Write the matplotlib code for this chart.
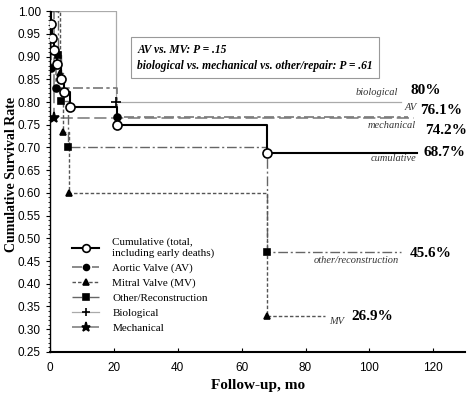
import matplotlib
matplotlib.use('Agg')
import matplotlib.pyplot as plt
from matplotlib.legend_handler import HandlerLine2D
import numpy as np

# Kaplan-Meier style step curves (months, survival)
cum_t = [0, 0.3, 0.6, 1.2, 2.3, 3.4, 4.3, 6.2, 21, 68, 115]
cum_s = [1.0, 0.971, 0.94, 0.914, 0.883, 0.851, 0.821, 0.79, 0.749, 0.687, 0.687]

av_t = [0, 0.3, 1.9, 21, 112]
av_s = [1.0, 0.874, 0.831, 0.767, 0.767]

mv_t = [0, 3.1, 4.2, 5.9, 68, 86]
mv_s = [1.0, 0.864, 0.735, 0.60, 0.328, 0.328]

oth_t = [0, 2.6, 3.3, 5.5, 68, 110]
oth_s = [1.0, 0.903, 0.803, 0.70, 0.47, 0.47]

bio_t = [0, 20.8, 110]
bio_s = [1.0, 0.80, 0.80]

mech_t = [0, 1.3, 114]
mech_s = [1.0, 0.764, 0.764]

end_labels = ['biological', 'AV', 'mechanical', 'cumulative', 'other/reconstruction', 'MV']
end_pcts = ['80%', '76.1%', '74.2%', '68.7%', '45.6%', '26.9%']

serif = ['Liberation Serif', 'DejaVu Serif']
plt.rcParams['font.family'] = ['Liberation Sans', 'DejaVu Sans']


class LeftMarker(HandlerLine2D):
    def get_xdata(self, legend, xdescent, ydescent, width, height, fontsize):
        xdata, _ = super().get_xdata(legend, xdescent, ydescent, width, height, fontsize)
        return xdata, [xdata[0]]


fig = plt.figure(figsize=(4.74, 3.99), dpi=100)
ax = fig.add_axes([0.1055, 0.118, 0.876, 0.854])


def km(t, s, marker, ls, color, lw, ms, mfc, label):
    ax.plot(t, s, drawstyle='steps-post', ls=ls, color=color, lw=lw)
    ax.plot(t[1:-1], s[1:-1], ls='none', marker=marker, ms=ms, mfc=mfc,
            mec='black', mew=1.2, color='black', zorder=5)
    return plt.Line2D([], [], ls=ls, color=color, lw=lw, marker=marker,
                      ms=ms * 0.85, mfc=mfc, mec='black', mew=1.2, label=label)


h = []
h.append(km(bio_t, bio_s, '+', '-', '#aaaaaa', 0.9, 7, 'black', 'Biological'))
h.append(km(mech_t, mech_s, '*', (0, (8, 3)), '#777777', 1.1, 8, 'black', 'Mechanical'))
h.append(km(oth_t, oth_s, 's', (0, (7, 2, 1.5, 2)), '#666666', 1.0, 5, 'black', 'Other/Reconstruction'))
h.append(km(mv_t, mv_s, '^', (0, (2.5, 1.5)), '#555555', 1.0, 5, 'black', 'Mitral Valve (MV)'))
h.append(km(av_t, av_s, 'o', (0, (6, 2, 2, 2)), '#777777', 1.2, 5, 'black', 'Aortic Valve (AV)'))
h.append(km(cum_t, cum_s, 'o', '-', 'black', 1.5, 6.5, 'white', 'Cumulative (total,\nincluding early deaths)'))

order = [5, 4, 3, 2, 0, 1]
leg = ax.legend([h[i] for i in order], [h[i].get_label() for i in order],
                loc='upper left', bbox_to_anchor=(0.03, 0.365), frameon=False,
                handler_map={plt.Line2D: LeftMarker()}, handlelength=2.4,
                handletextpad=1.2, labelspacing=0.45, prop={'family': serif, 'size': 8})

ax.set_xlim(0, 130)
ax.set_ylim(0.25, 1.0)
ax.set_xticks(np.arange(0, 121, 20))
ax.set_yticks(np.arange(0.25, 1.001, 0.05))
ax.set_yticks(np.arange(0.25, 1.001, 0.01), minor=True)
ax.yaxis.set_major_formatter(plt.FormatStrFormatter('%.2f'))
ax.tick_params(axis='x', direction='in', length=3, labelsize=8.5, pad=7)
ax.tick_params(axis='y', direction='out', length=3, labelsize=8.5)
ax.tick_params(axis='y', which='minor', direction='out', length=1.5)
for s in ['top', 'right']:
    ax.spines[s].set_visible(False)
ax.spines['left'].set_linewidth(1.0)
ax.spines['bottom'].set_linewidth(1.5)

ax.set_xlabel('Follow-up, mo', family=serif, fontweight='bold', fontsize=11)
ax.set_ylabel('Cumulative Survival Rate', family=serif, fontweight='bold', fontsize=10)
ax.yaxis.set_label_coords(-0.076, 0.52)

ax.text(0.21, 0.905, 'AV vs. MV: P = .15\nbiological vs. mechanical vs. other/repair: P = .61',
        transform=ax.transAxes, va='top', ha='left', family=serif, style='italic',
        fontweight='bold', fontsize=8.3, linespacing=1.45,
        bbox=dict(boxstyle='square,pad=0.55', fc='white', ec='#999999', lw=0.8))

# end-of-curve labels
lab_pos = [(109, 0.820), (114.7, 0.787), (114.4, 0.749), (114.7, 0.676), (109.4, 0.452), (92, 0.316)]
pct_pos = [(113, 0.826), (115.9, 0.782), (117.5, 0.737), (116.9, 0.690), (112.5, 0.466), (94.4, 0.327)]
for lab, (x, y) in zip(end_labels, lab_pos):
    ax.text(x, y, lab, ha='right', va='center', family=serif, style='italic',
            fontsize=7.5, color='#333333')
for p, (x, y) in zip(end_pcts, pct_pos):
    ax.text(x, y, p, ha='left', va='center', family=serif, fontweight='bold',
            fontsize=11)

fig.savefig('out.png', dpi=100)
